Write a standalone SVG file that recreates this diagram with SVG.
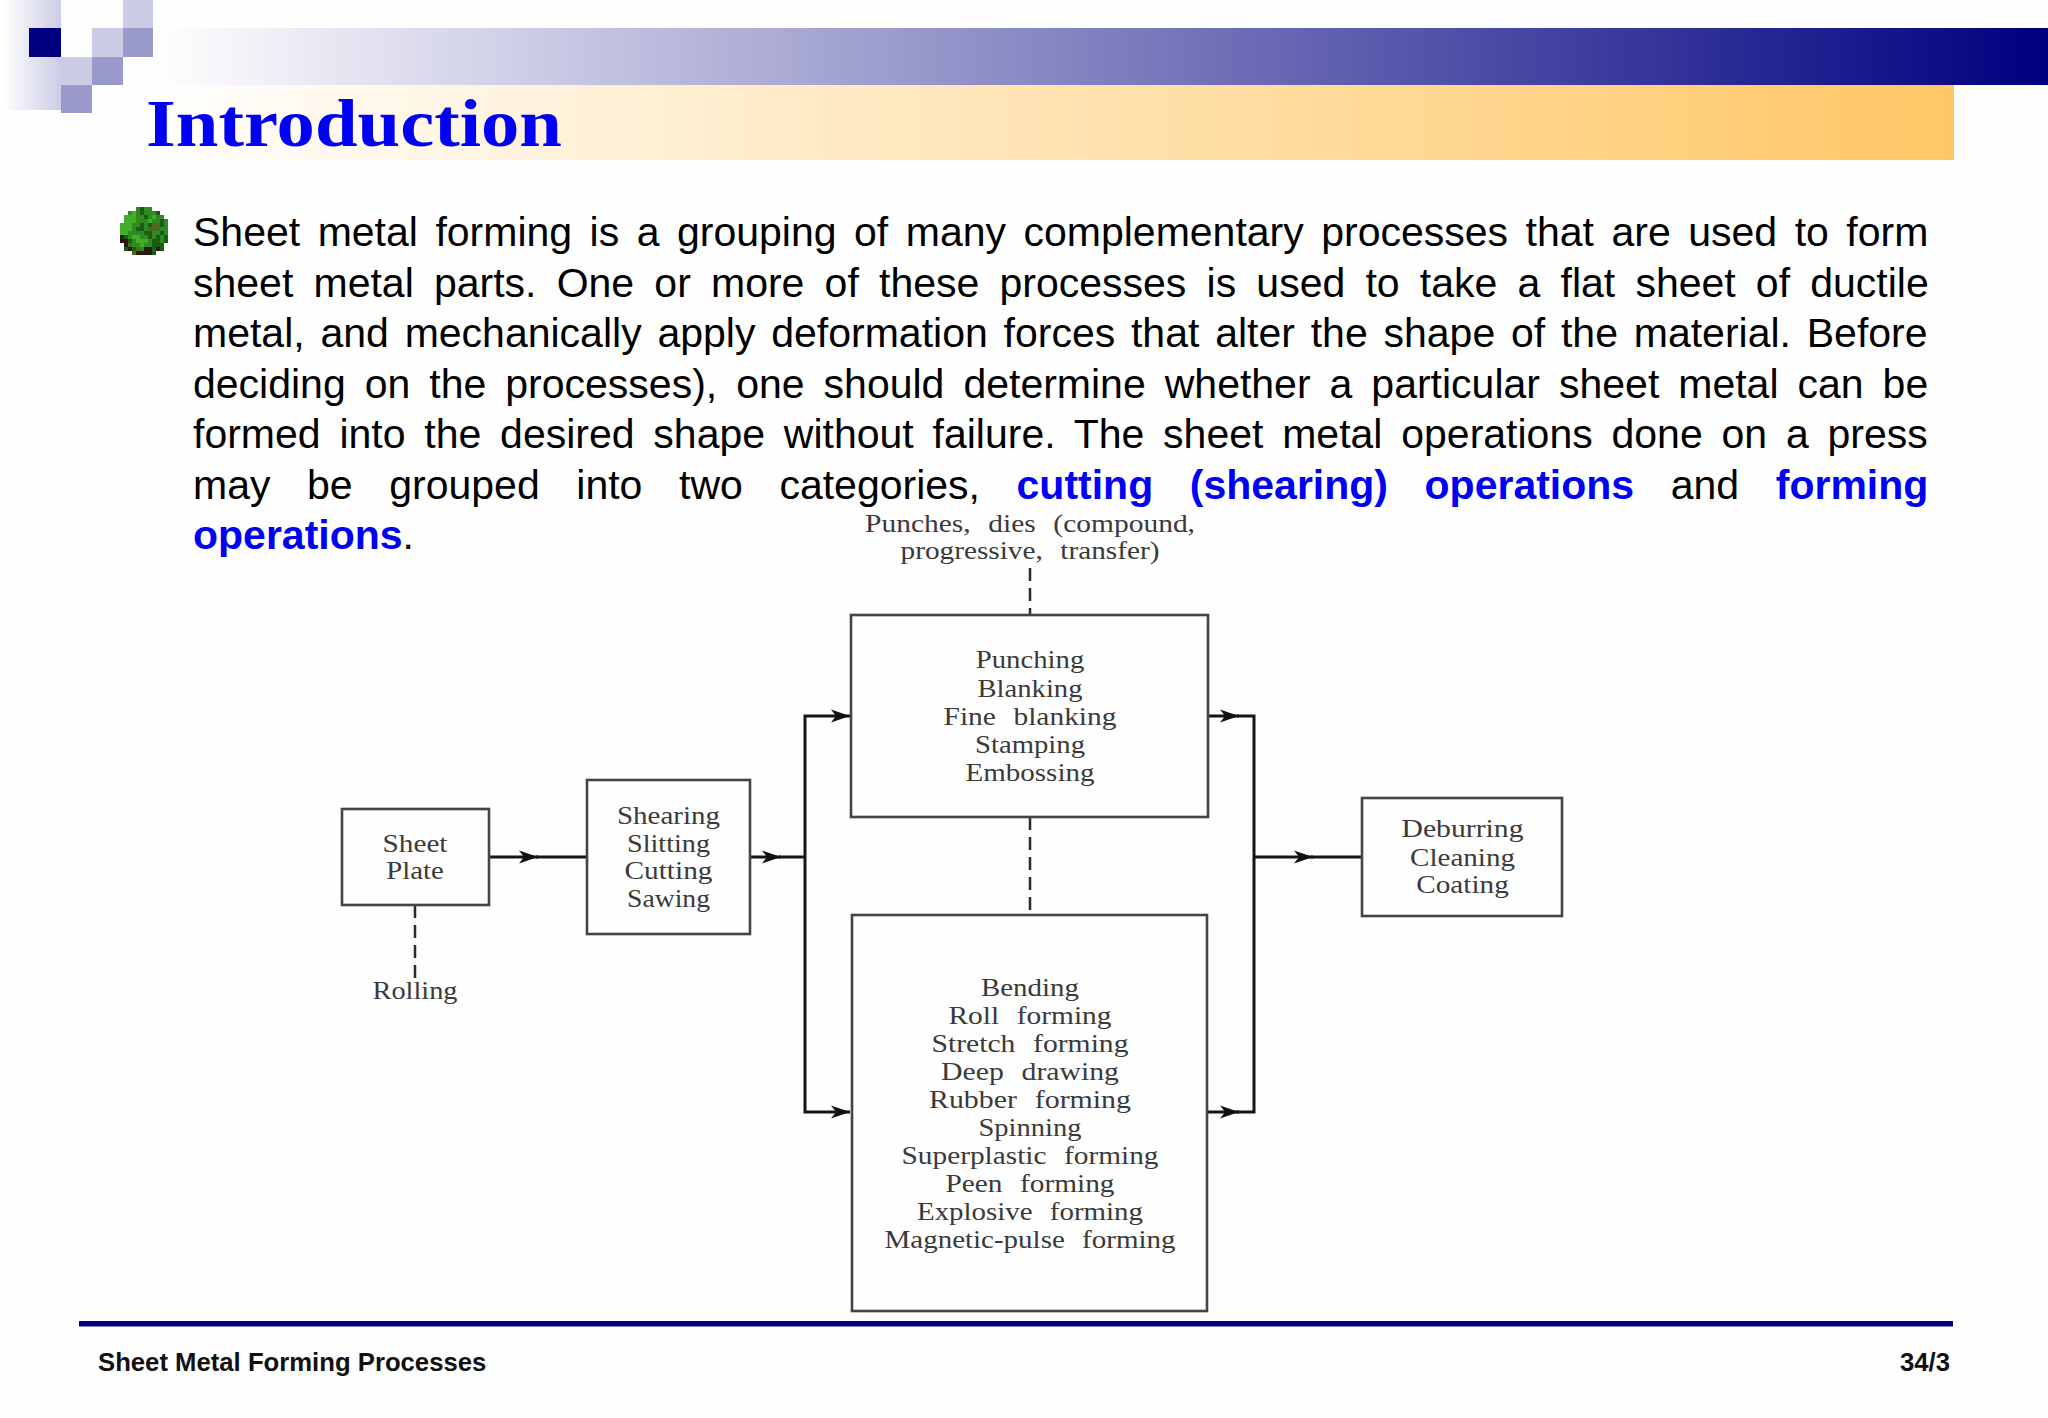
<svg xmlns="http://www.w3.org/2000/svg" width="2048" height="1418" viewBox="0 0 2048 1418">
<style>
.body{font-family:"Liberation Sans",Arial,sans-serif;font-size:41px;fill:#000}
.em{font-weight:700;fill:#0000f5}
.foot{font-family:"Liberation Sans",Arial,sans-serif;font-weight:700;font-size:25.7px;fill:#111}
.box{fill:#fefefe;stroke:#444;stroke-width:2.6}
.lb{font-family:"Liberation Serif","Times New Roman",serif;font-size:26px;fill:#3a3a3a;text-anchor:middle;word-spacing:9px}
.con{fill:none;stroke:#151515;stroke-width:3}
.dash{fill:none;stroke:#2a2a2a;stroke-width:2.5;stroke-dasharray:13 7}
.lt{fill:#ccccE6}.md{fill:#9999cc}
</style>
<defs>
<linearGradient id="barG" gradientUnits="userSpaceOnUse" x1="153" y1="0" x2="2048" y2="0"><stop offset="0" stop-color="#fff"/><stop offset="1" stop-color="#000080"/></linearGradient>
<linearGradient id="bandG" gradientUnits="userSpaceOnUse" x1="140" y1="0" x2="1954" y2="0"><stop offset="0" stop-color="#fff"/><stop offset="1" stop-color="#ffc766"/></linearGradient>
<linearGradient id="sideG" gradientUnits="userSpaceOnUse" x1="3" y1="0" x2="61" y2="0"><stop offset="0" stop-color="#fff"/><stop offset="1" stop-color="#ccccE6"/></linearGradient>
<filter id="soft" x="-10%" y="-10%" width="120%" height="120%"><feGaussianBlur stdDeviation="0.7"/></filter>
<marker id="arr" markerUnits="userSpaceOnUse" markerWidth="19" markerHeight="14" viewBox="0 0 19 14" refX="19" refY="7" orient="auto"><path d="M0 0.5L19 7L0 13.5L5 7z" fill="#111"/></marker>
</defs>
<rect width="2048" height="1418" fill="#fefefe"/>
<g id="header">
<rect x="3" y="0" width="58" height="110" fill="url(#sideG)"/>
<rect x="153" y="28" width="1895" height="57" fill="url(#barG)"/>
<rect x="140" y="85" width="1814" height="75" fill="url(#bandG)"/>
<rect x="29" y="28" width="32" height="29" fill="#000080"/>
<rect class="lt" x="92" y="28" width="31" height="29"/>
<rect class="lt" x="123" y="0" width="30" height="28"/>
<rect class="md" x="123" y="28" width="30" height="29"/>
<rect class="lt" x="61" y="57" width="31" height="28"/>
<rect class="md" x="92" y="57" width="31" height="28"/>
<rect class="md" x="61" y="85" width="31" height="28"/>
<text x="146" y="146" font-family="Liberation Serif,Times New Roman,serif" font-weight="700" font-size="68" fill="#0000f5" textLength="416" lengthAdjust="spacingAndGlyphs">Introduction</text>
</g>
<g id="bullet" filter="url(#soft)">
<path fill="#3fae2a" d="M132 211h4v4h-4zM124 215h12v4h-12zM152 215h4v4h-4zM124 219h12v4h-12zM148 219h4v4h-4zM120 223h12v4h-12zM120 227h12v4h-12zM120 231h8v4h-8zM132 235h8v4h-8zM136 239h12v4h-12zM140 243h4v4h-4z"/>
<path fill="#2e8b22" d="M136 207h4v4h-4zM144 207h8v4h-8zM128 211h4v4h-4zM136 211h4v4h-4zM144 211h12v4h-12zM136 215h8v4h-8zM148 215h4v4h-4zM156 215h8v4h-8zM136 219h12v4h-12zM152 219h8v4h-8zM164 219h4v4h-4zM132 223h8v4h-8zM144 223h4v4h-4zM164 223h4v4h-4zM132 227h4v4h-4zM144 227h4v4h-4zM160 227h8v4h-8zM128 231h16v4h-16zM152 231h8v4h-8zM164 231h4v4h-4zM128 235h4v4h-4zM140 235h8v4h-8zM152 235h4v4h-4zM160 235h4v4h-4zM132 239h4v4h-4zM148 239h4v4h-4zM160 239h4v4h-4zM132 243h8v4h-8zM144 243h8v4h-8zM140 247h4v4h-4z"/>
<path fill="#1f5c14" d="M140 207h4v4h-4zM140 211h4v4h-4zM156 211h4v4h-4zM144 215h4v4h-4zM160 219h4v4h-4zM140 223h4v4h-4zM148 223h4v4h-4zM160 223h4v4h-4zM136 227h8v4h-8zM144 231h8v4h-8zM160 231h4v4h-4zM124 235h4v4h-4zM148 235h4v4h-4zM156 235h4v4h-4zM164 235h4v4h-4zM128 239h4v4h-4zM152 239h8v4h-8zM164 239h4v4h-4zM152 243h12v4h-12zM124 247h4v4h-4zM132 247h4v4h-4zM152 247h4v4h-4zM160 247h4v4h-4zM152 251h4v4h-4z"/>
<path fill="#4c6b1e" d="M152 223h8v4h-8zM148 227h12v4h-12zM128 243h4v4h-4zM136 247h4v4h-4zM132 251h4v4h-4z"/>
<path fill="#2a1f08" d="M120 235h4v4h-4zM120 239h8v4h-8zM124 243h4v4h-4zM128 247h4v4h-4zM144 247h8v4h-8zM156 247h4v4h-4zM136 251h16v4h-16z"/>
</g>
<g id="body-text" class="body">
<text x="193" y="246" word-spacing="6.1">Sheet metal forming is a grouping of many complementary processes that are used to form</text>
<text x="193" y="296.5" word-spacing="8.8">sheet metal parts. One or more of these processes is used to take a flat sheet of ductile</text>
<text x="193" y="347" word-spacing="4.4">metal, and mechanically apply deformation forces that alter the shape of the material. Before</text>
<text x="193" y="397.5" word-spacing="7.6">deciding on the processes), one should determine whether a particular sheet metal can be</text>
<text x="193" y="448" word-spacing="7.4">formed into the desired shape without failure. The sheet metal operations done on a press</text>
<text x="193" y="498.5" word-spacing="25.2">may be grouped into two categories, <tspan class="em">cutting (shearing) operations</tspan> and <tspan class="em">forming</tspan></text>
<text x="193" y="549"><tspan class="em">operations</tspan>.</text>
</g>
<g id="connectors">
<path class="con" d="M488 857H538" marker-end="url(#arr)"/><path class="con" d="M536 857H587"/>
<path class="con" d="M750 857H781" marker-end="url(#arr)"/><path class="con" d="M779 857H805"/>
<path class="con" d="M805 857V716H850" marker-end="url(#arr)"/>
<path class="con" d="M805 857V1112H850" marker-end="url(#arr)"/>
<path class="con" d="M1208 716H1239" marker-end="url(#arr)"/><path class="con" d="M1237 716H1254V1112H1237"/>
<path class="con" d="M1207 1112H1239" marker-end="url(#arr)"/>
<path class="con" d="M1254 857H1313" marker-end="url(#arr)"/><path class="con" d="M1311 857H1362"/>
<path class="dash" d="M415 905V980"/>
<path class="dash" d="M1030 568V615"/>
<path class="dash" d="M1030 817V915"/>
</g>
<g id="tooling">
<text class="lb" x="1030" y="532" textLength="330" lengthAdjust="spacingAndGlyphs">Punches, dies (compound,</text>
<text class="lb" x="1030" y="559" textLength="259" lengthAdjust="spacingAndGlyphs">progressive, transfer)</text>
</g>
<g id="sheet-plate">
<rect class="box" x="342" y="809" width="147" height="96"/>
<text class="lb" x="415" y="852" textLength="65" lengthAdjust="spacingAndGlyphs">Sheet</text>
<text class="lb" x="415" y="879" textLength="57.5" lengthAdjust="spacingAndGlyphs">Plate</text>
</g>
<g id="rolling"><text class="lb" x="415" y="999" textLength="85" lengthAdjust="spacingAndGlyphs">Rolling</text></g>
<g id="cutting">
<rect class="box" x="587" y="780" width="163" height="154"/>
<text class="lb" x="668.5" y="824" textLength="103" lengthAdjust="spacingAndGlyphs">Shearing</text>
<text class="lb" x="668.5" y="852" textLength="83" lengthAdjust="spacingAndGlyphs">Slitting</text>
<text class="lb" x="668.5" y="879" textLength="88" lengthAdjust="spacingAndGlyphs">Cutting</text>
<text class="lb" x="668.5" y="907" textLength="83" lengthAdjust="spacingAndGlyphs">Sawing</text>
</g>
<g id="press-cutting">
<rect class="box" x="851" y="615" width="357" height="202"/>
<text class="lb" x="1030" y="668" textLength="108.5" lengthAdjust="spacingAndGlyphs">Punching</text>
<text class="lb" x="1030" y="697" textLength="105" lengthAdjust="spacingAndGlyphs">Blanking</text>
<text class="lb" x="1030" y="725" textLength="173" lengthAdjust="spacingAndGlyphs">Fine blanking</text>
<text class="lb" x="1030" y="753" textLength="110" lengthAdjust="spacingAndGlyphs">Stamping</text>
<text class="lb" x="1030" y="781" textLength="129" lengthAdjust="spacingAndGlyphs">Embossing</text>
</g>
<g id="forming">
<rect class="box" x="852" y="915" width="355" height="396"/>
<text class="lb" x="1030" y="996" textLength="98" lengthAdjust="spacingAndGlyphs">Bending</text>
<text class="lb" x="1030" y="1024" textLength="163" lengthAdjust="spacingAndGlyphs">Roll forming</text>
<text class="lb" x="1030" y="1052" textLength="197" lengthAdjust="spacingAndGlyphs">Stretch forming</text>
<text class="lb" x="1030" y="1080" textLength="178" lengthAdjust="spacingAndGlyphs">Deep drawing</text>
<text class="lb" x="1030" y="1108" textLength="202" lengthAdjust="spacingAndGlyphs">Rubber forming</text>
<text class="lb" x="1030" y="1136" textLength="103" lengthAdjust="spacingAndGlyphs">Spinning</text>
<text class="lb" x="1030" y="1164" textLength="257" lengthAdjust="spacingAndGlyphs">Superplastic forming</text>
<text class="lb" x="1030" y="1192" textLength="169" lengthAdjust="spacingAndGlyphs">Peen forming</text>
<text class="lb" x="1030" y="1220" textLength="226" lengthAdjust="spacingAndGlyphs">Explosive forming</text>
<text class="lb" x="1030" y="1248" textLength="291" lengthAdjust="spacingAndGlyphs">Magnetic-pulse forming</text>
</g>
<g id="finishing">
<rect class="box" x="1362" y="798" width="200" height="118"/>
<text class="lb" x="1462.5" y="837" textLength="122" lengthAdjust="spacingAndGlyphs">Deburring</text>
<text class="lb" x="1462.5" y="866" textLength="105" lengthAdjust="spacingAndGlyphs">Cleaning</text>
<text class="lb" x="1462.5" y="893" textLength="92.5" lengthAdjust="spacingAndGlyphs">Coating</text>
</g>
<g id="footer">
<rect x="79" y="1321" width="1874" height="5.5" fill="#000080"/>
<text class="foot" x="98" y="1371">Sheet Metal Forming Processes</text>
<text class="foot" x="1950" y="1371" text-anchor="end">34/3</text>
</g>
</svg>
